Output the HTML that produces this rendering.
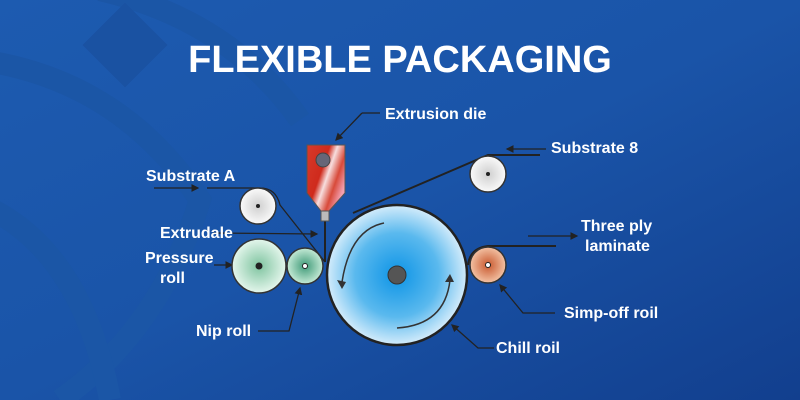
<!DOCTYPE html><html><head><style>body{margin:0}svg{display:block}text{font-family:"Liberation Sans",sans-serif;fill:#fff;font-weight:bold}</style></head><body>
<svg width="800" height="400" viewBox="0 0 800 400" xmlns="http://www.w3.org/2000/svg">
<defs>
<linearGradient id="bg" x1="0" y1="0" x2="1" y2="1"><stop offset="0" stop-color="#1d5bb0"/><stop offset="0.5" stop-color="#1a54a8"/><stop offset="1" stop-color="#123f8e"/></linearGradient>
<radialGradient id="chill"><stop offset="0" stop-color="#0d94e6"/><stop offset="0.6" stop-color="#5ab9ee"/><stop offset="1" stop-color="#d4ecfb"/></radialGradient>
<radialGradient id="white"><stop offset="0" stop-color="#cfcfcf"/><stop offset="1" stop-color="#fafafa"/></radialGradient>
<radialGradient id="green1"><stop offset="0" stop-color="#7fc4a0"/><stop offset="1" stop-color="#e4f6ec"/></radialGradient>
<radialGradient id="green2"><stop offset="0" stop-color="#3f9a78"/><stop offset="1" stop-color="#c5ead6"/></radialGradient>
<radialGradient id="org"><stop offset="0" stop-color="#c8582e"/><stop offset="1" stop-color="#f3c2a4"/></radialGradient>
<linearGradient id="die" x1="0" y1="0" x2="1" y2="0.6"><stop offset="0" stop-color="#d73a2a"/><stop offset="0.45" stop-color="#cf2a1c"/><stop offset="0.6" stop-color="#f7dede"/><stop offset="0.8" stop-color="#d84a3a"/><stop offset="1" stop-color="#f3a0b0"/></linearGradient>
<marker id="ar" markerWidth="6" markerHeight="6" refX="5" refY="3" orient="auto"><path d="M0,0 L6,3 L0,6z" fill="#222"/></marker>
</defs>
<rect width="800" height="400" fill="url(#bg)"/>
<g fill="none" stroke="#1b56a6" stroke-width="22">
<path d="M-20,60 Q120,80 200,200 Q160,330 60,400"/>
<path d="M100,-10 Q230,20 300,120"/>
<path d="M-30,200 Q80,240 110,400"/>
</g>
<rect x="95" y="15" width="60" height="60" transform="rotate(45 125 45)" fill="#1a52a2"/>
<text x="400" y="72" text-anchor="middle" font-size="38">FLEXIBLE PACKAGING</text>
<g stroke="#222" stroke-width="1.3" fill="none">
<path d="M362,113 L380,113"/><path d="M362,113 L336,140" marker-end="url(#ar)"/>
<path d="M154,188 L198,188" marker-end="url(#ar)"/><path d="M207,188 L260,188 Q276,188 280,205 L325,262"/>
<path d="M213,233 L317,234" marker-end="url(#ar)"/>
<path d="M214,265 L232,265" marker-end="url(#ar)"/>
<path d="M258,331 L289,331 L300,288" marker-end="url(#ar)"/>
<path d="M546,149 L507,149" marker-end="url(#ar)"/>
<path d="M528,236 L577,236" marker-end="url(#ar)"/>
<path d="M555,313 L523,313 L500,285" marker-end="url(#ar)"/>
<path d="M494,348 L478,348 L452,325" marker-end="url(#ar)"/>
</g>
<g stroke="#222" stroke-width="2" fill="none">
<path d="M540,155 L488,155 L353,213"/>
<path d="M556,246 L488,246 Q470,248 468,265"/>
<path d="M325,221 L325,262"/>
</g>
<circle cx="397" cy="275" r="70" fill="url(#chill)" stroke="#222" stroke-width="2.5"/>
<circle cx="397" cy="275" r="9" fill="#555" stroke="#333"/>
<path d="M384,223 Q350,230 342,282" fill="none" stroke="#333" stroke-width="1.5"/><path d="M337,280 L346,282 L342,289z" fill="#333"/>
<path d="M397,328 Q445,325 450,280" fill="none" stroke="#333" stroke-width="1.5"/><path d="M445,282 L454,282 L450,274z" fill="#333"/>
<circle cx="258" cy="206" r="18" fill="url(#white)" stroke="#333" stroke-width="1.5"/><circle cx="258" cy="206" r="2" fill="#222"/>
<circle cx="259" cy="266" r="27" fill="url(#green1)" stroke="#333" stroke-width="1.5"/><circle cx="259" cy="266" r="3.5" fill="#222"/>
<circle cx="305" cy="266" r="18" fill="url(#green2)" stroke="#333" stroke-width="1.5"/><circle cx="305" cy="266" r="2.5" fill="#fff" stroke="#222"/>
<circle cx="488" cy="174" r="18" fill="url(#white)" stroke="#333" stroke-width="1.5"/><circle cx="488" cy="174" r="2" fill="#222"/>
<circle cx="488" cy="265" r="18" fill="url(#org)" stroke="#333" stroke-width="1.5"/><circle cx="488" cy="265" r="2.5" fill="#fff" stroke="#222"/>
<path d="M307,145 L345,145 L345,193 L329,211 L321,211 L307,193z" fill="url(#die)" stroke="#555"/>
<rect x="321" y="211" width="8" height="10" fill="#bbb" stroke="#555"/>
<circle cx="323" cy="160" r="7" fill="#667" stroke="#444"/>
<g font-size="16">
<text x="385" y="119">Extrusion die</text>
<text x="551" y="153">Substrate 8</text>
<text x="146" y="181">Substrate A</text>
<text x="160" y="238">Extrudale</text>
<text x="145" y="263">Pressure</text><text x="160" y="283">roll</text>
<text x="196" y="336">Nip roll</text>
<text x="581" y="231">Three ply</text><text x="585" y="251">laminate</text>
<text x="564" y="318">Simp-off roil</text>
<text x="496" y="353">Chill roil</text>
</g>
</svg></body></html>
